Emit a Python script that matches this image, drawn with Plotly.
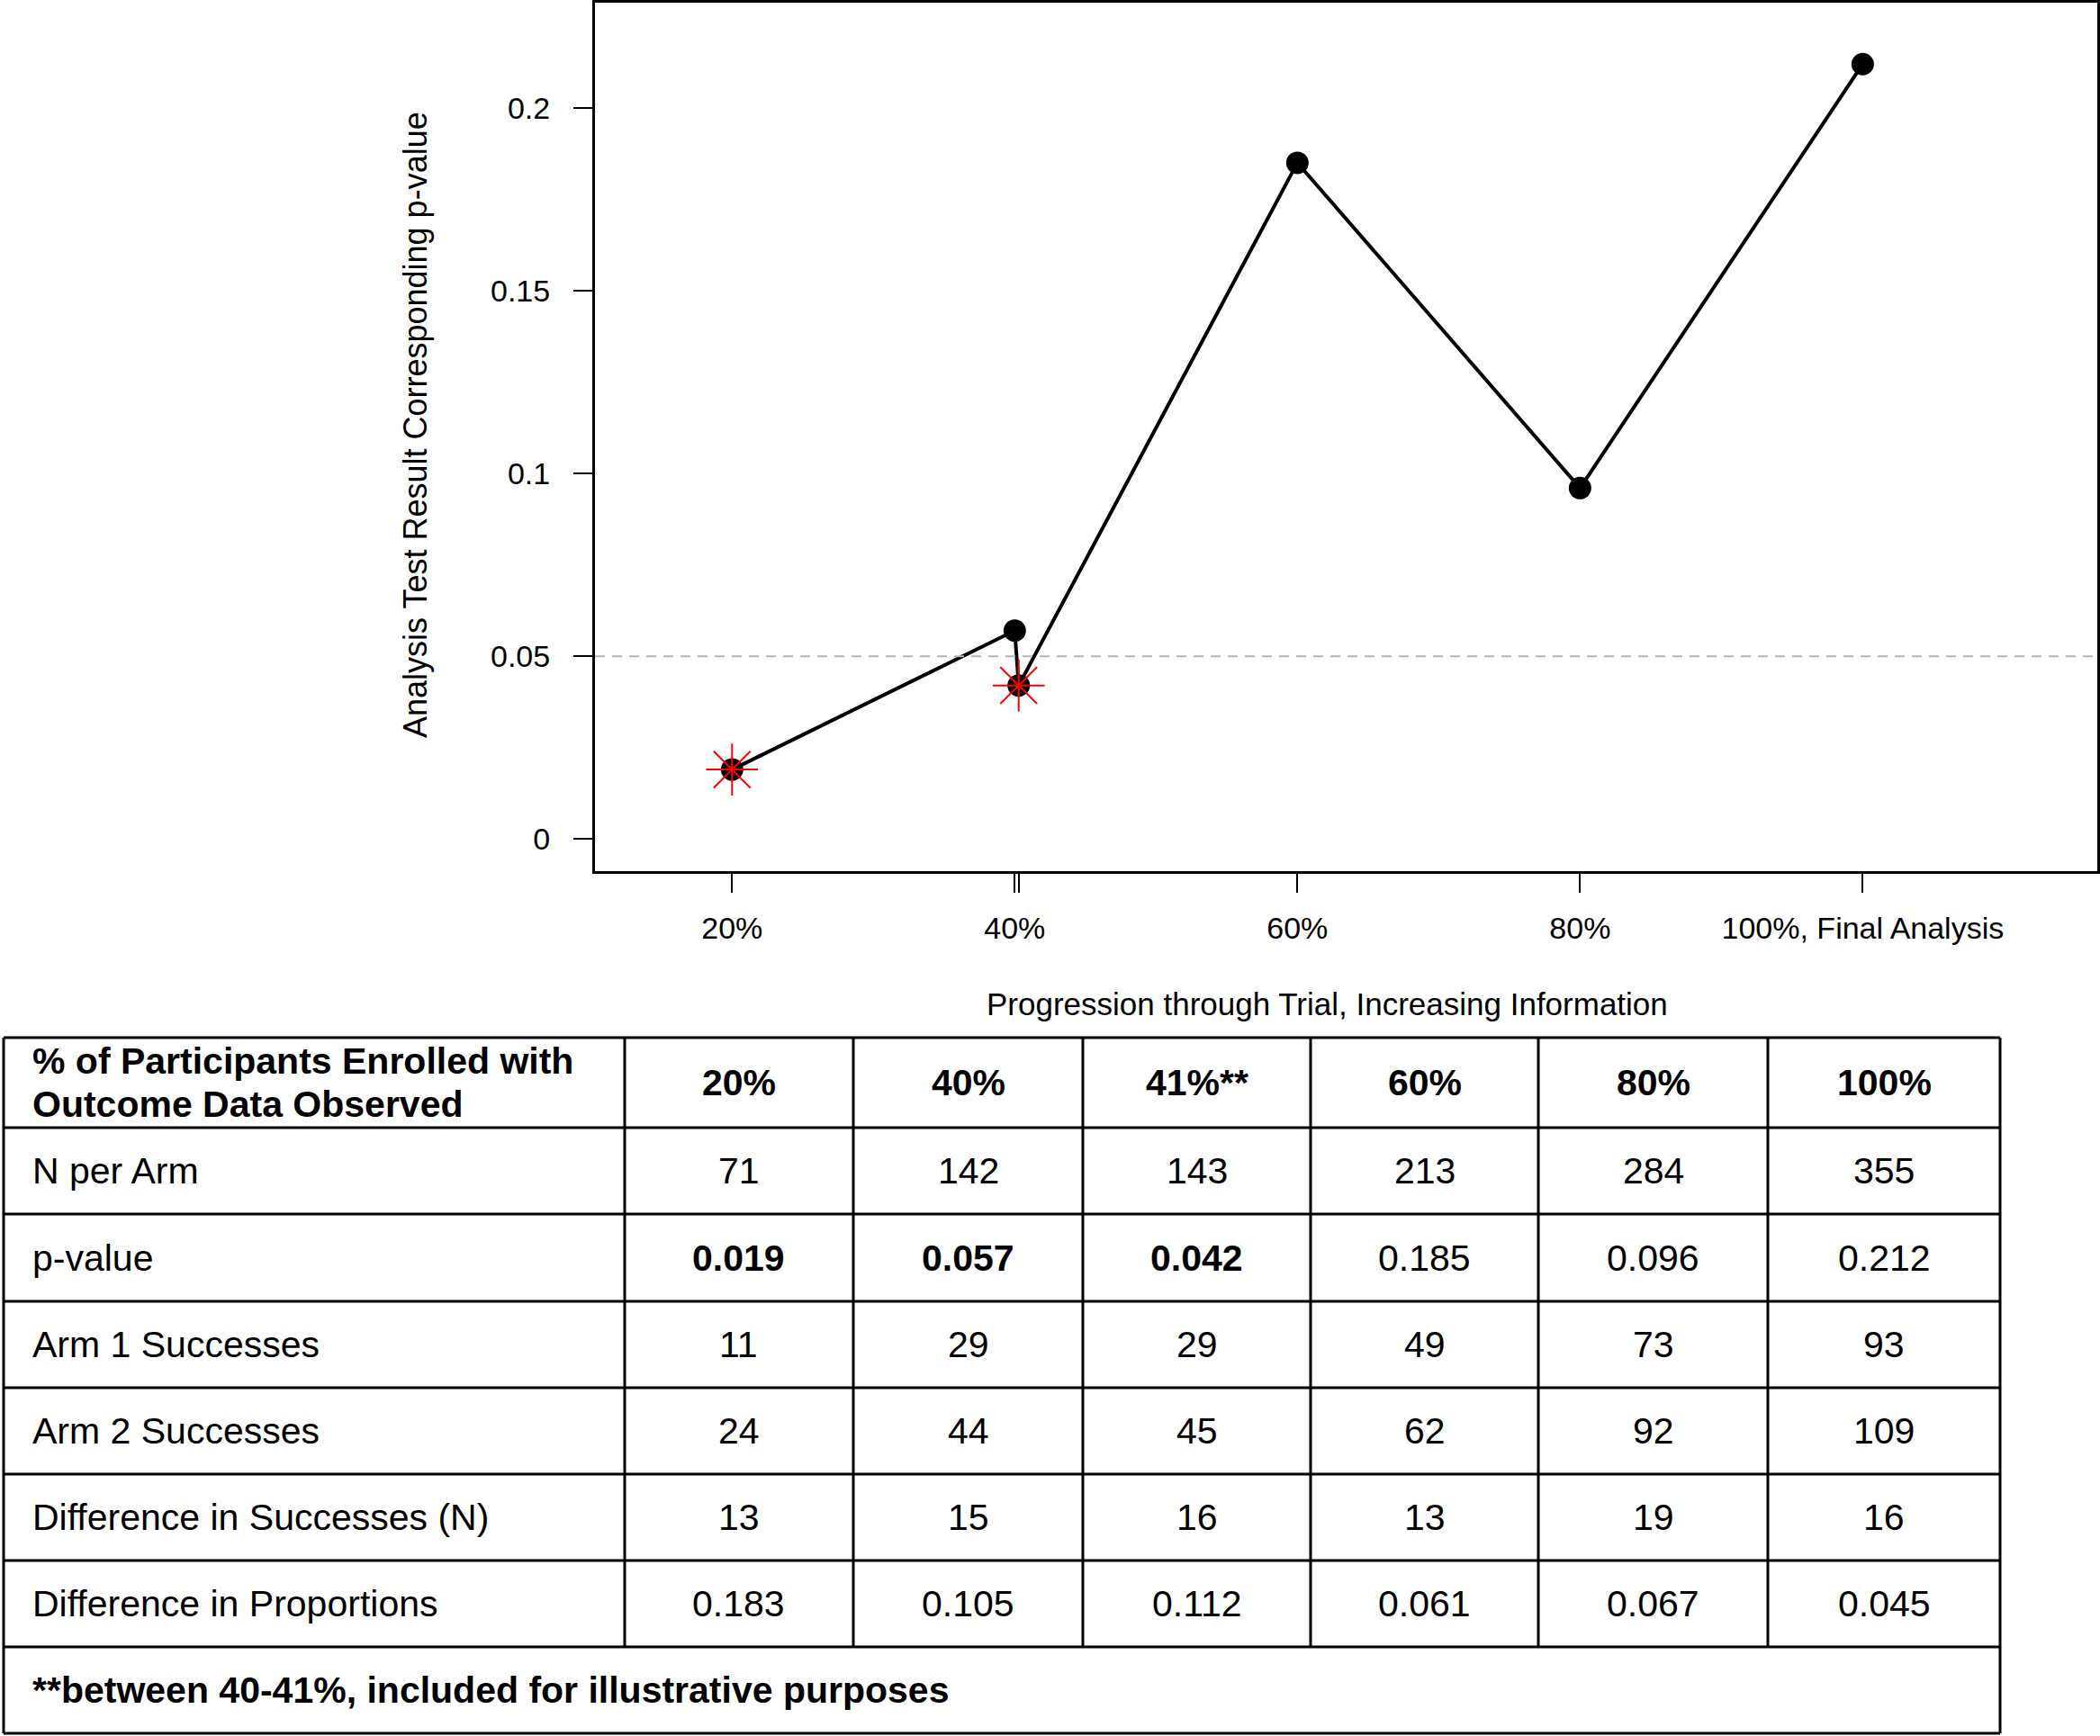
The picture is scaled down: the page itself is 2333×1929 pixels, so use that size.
import plotly.graph_objects as go

W, H = 2333, 1929

# interim analyses
n_per_arm = [71, 142, 143, 213, 284, 355]
p_values = [0.019, 0.057, 0.042, 0.185, 0.096, 0.212]
tick_text = ["20%", "40%", "", "60%", "80%", "100%, Final Analysis"]
significant = [p < 0.05 for p in p_values]

# table contents
col_headers = ["20%", "40%", "41%**", "60%", "80%", "100%"]
row_labels = ["N per Arm", "p-value", "Arm 1 Successes", "Arm 2 Successes",
              "Difference in Successes (N)", "Difference in Proportions"]
arm1 = [11, 29, 29, 49, 73, 93]
arm2 = [24, 44, 45, 62, 92, 109]
diff_n = [13, 15, 16, 13, 19, 16]
diff_prop = [0.183, 0.105, 0.112, 0.061, 0.067, 0.045]
bold_p = [True, True, True, False, False, False]
header_label = ["% of Participants Enrolled with", "Outcome Data Observed"]
footnote = "**between 40-41%, included for illustrative purposes"

info = [100 * n / n_per_arm[-1] for n in n_per_arm]

FONT = "Liberation Sans, Arial, sans-serif"

fig = go.Figure()
fig.add_trace(go.Scatter(
    x=info, y=p_values, mode="lines+markers",
    line=dict(color="black", width=4),
    marker=dict(color="black", size=25, symbol="circle"),
    showlegend=False))
fig.add_trace(go.Scatter(
    x=[x for x, s in zip(info, significant) if s],
    y=[p for p, s in zip(p_values, significant) if s],
    mode="markers",
    marker=dict(symbol="asterisk-open", size=48, color="red",
                line=dict(color="red", width=2)),
    showlegend=False))

fig.add_shape(type="line", xref="x domain", yref="y", x0=0, x1=1, y0=0.05, y1=0.05,
              line=dict(color="#b4b4b4", width=2, dash="11px,8px"))


def px(x):
    return x / W


def py(y):
    return 1 - y / H


fig.update_layout(
    width=W, height=H, margin=dict(l=0, r=0, t=0, b=0),
    paper_bgcolor="white", plot_bgcolor="white",
    font=dict(family=FONT, size=34, color="black"),
    xaxis=dict(domain=[px(661), px(2330)], range=[10.3, 116.6],
               tickvals=info, ticktext=tick_text, ticks="outside", ticklen=21,
               tickwidth=2, tickcolor="black", showgrid=False, zeroline=False,
               showline=True, mirror=True, linecolor="black", linewidth=3,
               ticklabelstandoff=10, tickfont=dict(size=34)),
    yaxis=dict(domain=[py(968), py(3)], range=[-0.0088, 0.2288],
               tickvals=[0, 0.05, 0.1, 0.15, 0.2], ticktext=["0", "0.05", "0.1", "0.15", "0.2"],
               ticks="outside", ticklen=21, tickwidth=2, tickcolor="black",
               showgrid=False, zeroline=False, showline=True, mirror=True,
               linecolor="black", linewidth=3, ticklabelstandoff=19,
               tickfont=dict(size=34)),
)


def label(text, x, y, size, xanchor="center", angle=0):
    fig.add_annotation(text=text, xref="paper", yref="paper", x=px(x), y=py(y),
                       xanchor=xanchor, yanchor="middle", textangle=angle,
                       showarrow=False, font=dict(size=size))


label("Analysis Test Result Corresponding p-value", 462, 472, 36, angle=-90)
label("Progression through Trial, Increasing Information", 1474, 1115, 35)

# table grid
col_edges = [4, 694, 948, 1203, 1456, 1709, 1964, 2222]
row_edges = [1153, 1253, 1349, 1446, 1542, 1638, 1734, 1830, 1926]
LW = 3
for yy in row_edges:
    fig.add_shape(type="line", xref="paper", yref="paper",
                  x0=px(col_edges[0]), x1=px(col_edges[-1]), y0=py(yy), y1=py(yy),
                  line=dict(color="black", width=LW))
for i, xx in enumerate(col_edges):
    bottom = row_edges[-1] if i in (0, len(col_edges) - 1) else row_edges[-2]
    fig.add_shape(type="line", xref="paper", yref="paper",
                  x0=px(xx), x1=px(xx), y0=py(row_edges[0]), y1=py(bottom),
                  line=dict(color="black", width=LW))

TFS = 41
pad = 30
left = col_edges[0] + pad
hy = (row_edges[0] + row_edges[1]) / 2
for k, line in enumerate(header_label):
    label("<b>%s</b>" % line, left, hy - 24 + 48 * k, TFS, xanchor="left")
for j, h in enumerate(col_headers):
    label("<b>%s</b>" % h, (col_edges[j + 1] + col_edges[j + 2]) / 2, hy, TFS)

rows = [
    [str(v) for v in n_per_arm],
    [("<b>%.3f</b>" if b else "%.3f") % v for v, b in zip(p_values, bold_p)],
    [str(v) for v in arm1],
    [str(v) for v in arm2],
    [str(v) for v in diff_n],
    ["%.3f" % v for v in diff_prop],
]
for i, (name, vals) in enumerate(zip(row_labels, rows)):
    cy = (row_edges[i + 1] + row_edges[i + 2]) / 2
    label(name, left, cy, TFS, xanchor="left")
    for j, v in enumerate(vals):
        label(v, (col_edges[j + 1] + col_edges[j + 2]) / 2, cy, TFS)

label("<b>%s</b>" % footnote, left, (row_edges[-2] + row_edges[-1]) / 2, TFS, xanchor="left")

fig.write_html("out.html", config={"displayModeBar": False},
               post_script="document.body.style.margin='0';")
